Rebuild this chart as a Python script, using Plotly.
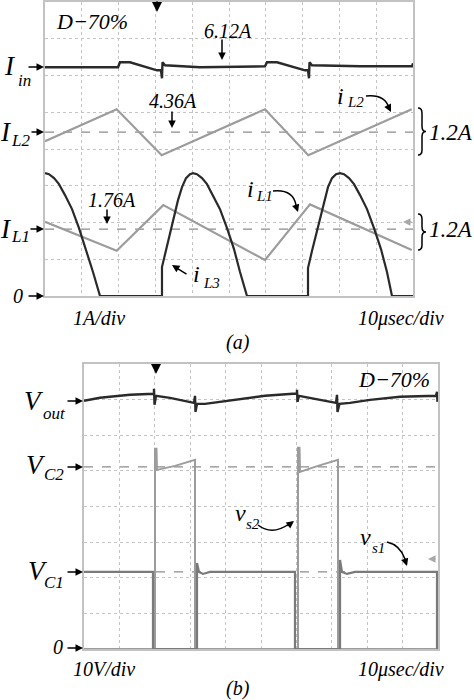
import plotly.graph_objects as go

W, H = 474, 700

# ---------------- Panel (a) data (x in time divisions, y in current divisions) -------------
iin_t = [0, 0.951, 1.984, 2.038, 2.310, 3.043, 3.152, 3.179, 3.193, 3.261, 4.212,
         5.978, 6.033, 6.304, 7.065, 7.147, 7.174, 7.188, 7.255, 8.560, 9.973, 10.0]
iin_v = [6.223, 6.223, 6.223, 6.359, 6.359, 6.141, 6.141, 5.924, 6.359, 6.277, 6.223,
         6.250, 6.359, 6.359, 6.141, 6.141, 5.924, 6.359, 6.277, 6.250, 6.250, 6.332]

il2_t = [0, 1.948, 3.171, 5.978, 7.155, 9.965]
il2_v = [4.212, 5.082, 3.832, 5.082, 3.832, 5.082]

il1_t = [0, 1.948, 3.215, 5.978, 7.201, 9.965]
il1_v = [2.019, 1.231, 2.473, 0.978, 2.492, 1.250]

il3_t = [0, 0.109, 0.245, 0.380, 0.543, 0.734, 0.924, 1.114, 1.304, 1.495,
         3.179, 3.179, 3.288, 3.397, 3.505, 3.614, 3.723, 3.832, 3.940, 4.022,
         4.130, 4.266, 4.402, 4.565, 4.755, 4.946, 5.136, 5.299, 5.489,
         7.147, 7.147, 7.255, 7.364, 7.473, 7.582, 7.690, 7.799, 7.908, 8.016,
         8.125, 8.261, 8.397, 8.560, 8.750, 8.940, 9.130, 9.293, 9.429, 10.0]
il3_v = [3.342, 3.315, 3.207, 3.043, 2.745, 2.364, 1.848, 1.277, 0.652, 0,
         0, 0.788, 1.250, 1.658, 2.147, 2.609, 2.962, 3.207, 3.315, 3.342,
         3.315, 3.207, 3.043, 2.745, 2.364, 1.848, 1.277, 0.652, 0,
         0, 0.761, 1.223, 1.658, 2.147, 2.609, 2.962, 3.207, 3.315, 3.342,
         3.315, 3.207, 3.043, 2.745, 2.364, 1.848, 1.277, 0.652, 0, 0]

ref_a_levels = [4.46, 1.82]          # I_L2 and I_L1 reference (dashed) levels

# ---------------- Panel (b) data (x in time divisions, y in voltage divisions) -------------
vout_t = [0, 0.452, 1.299, 1.864, 1.977, 1.977, 1.992, 2.034, 2.429, 3.107, 3.136, 3.150,
          3.192, 3.418, 4.209, 5.113, 5.904, 6.017, 6.017, 6.031, 6.073, 6.525, 7.119,
          7.147, 7.161, 7.218, 7.514, 8.079, 8.927, 9.944, 9.972, 9.986]
vout_v = [6.966, 7.051, 7.135, 7.163, 7.163, 7.303, 6.854, 7.107, 7.051, 6.910, 7.107, 6.657,
          6.882, 6.882, 6.994, 7.107, 7.163, 7.163, 7.275, 6.938, 7.107, 7.022, 6.910,
          7.135, 6.657, 6.882, 6.910, 6.994, 7.079, 7.107, 7.219, 6.938]

vs1_t = [0, 1.949, 1.949, 3.136, 3.192, 3.192, 3.249, 3.362, 3.559, 5.960, 5.960,
         7.175, 7.232, 7.232, 7.288, 7.429, 7.655, 9.972, 9.972]
vs1_v = [2.163, 2.163, 0, 0, 0, 2.416, 2.163, 2.107, 2.163, 2.163, 0,
         0, 0, 2.500, 2.163, 2.107, 2.163, 2.163, 0]

vs2_t = [0, 2.006, 2.006, 2.048, 2.062, 2.571, 3.136, 3.136, 6.045, 6.045, 6.088,
         6.102, 6.610, 7.175, 7.175, 10.0]
vs2_v = [0, 0, 5.618, 5.618, 5.028, 5.140, 5.309, 0, 0, 5.646, 5.646,
         4.972, 5.140, 5.309, 0, 0]

ref_b_levels = [5.112, 2.163]        # V_C2 and V_C1 reference (dashed) levels

DARK = "#2a2a2a"
GRAY = "#9c9c9c"
FONT = "Liberation Serif, Times New Roman, DejaVu Serif, serif"

fig = go.Figure()

# panel (a) traces
for lvl in ref_a_levels:
    fig.add_trace(go.Scatter(x=[0, 10], y=[lvl, lvl], mode="lines", xaxis="x", yaxis="y",
                             line=dict(color="#8c8c8c", width=1.2, dash="dash")))
fig.add_trace(go.Scatter(x=il2_t, y=il2_v, mode="lines", xaxis="x", yaxis="y",
                         line=dict(color=GRAY, width=2.2)))
fig.add_trace(go.Scatter(x=il1_t, y=il1_v, mode="lines", xaxis="x", yaxis="y",
                         line=dict(color=GRAY, width=2.2)))
fig.add_trace(go.Scatter(x=il3_t, y=il3_v, mode="lines", xaxis="x", yaxis="y",
                         line=dict(color=DARK, width=2.2)))
fig.add_trace(go.Scatter(x=iin_t, y=iin_v, mode="lines", xaxis="x", yaxis="y",
                         line=dict(color=DARK, width=2.4)))

# panel (b) traces
for lvl in ref_b_levels:
    fig.add_trace(go.Scatter(x=[0, 10], y=[lvl, lvl], mode="lines", xaxis="x2", yaxis="y2",
                             line=dict(color="#8c8c8c", width=1.2, dash="dash")))
fig.add_trace(go.Scatter(x=vs2_t, y=vs2_v, mode="lines", xaxis="x2", yaxis="y2",
                         line=dict(color=GRAY, width=2.0)))
fig.add_trace(go.Scatter(x=vs1_t, y=vs1_v, mode="lines", xaxis="x2", yaxis="y2",
                         line=dict(color="#7a7a7a", width=2.2)))
fig.add_trace(go.Scatter(x=vout_t, y=vout_v, mode="lines", xaxis="x2", yaxis="y2",
                         line=dict(color=DARK, width=2.4)))


def ax(domain, rng, dt, anchor):
    return dict(domain=domain, range=rng, dtick=dt, tick0=0, showgrid=True,
                gridcolor="#c4c4c4", griddash="dot", gridwidth=1.2,
                showticklabels=False, ticks="", zeroline=False, showline=True,
                mirror=True, linecolor="#c2c2c2", linewidth=1.6, anchor=anchor,
                fixedrange=True)


def px(x):
    return x / W


def py(y):
    return 1 - y / H


def txt(s, x, y, size=20, xanchor="center", color="black"):
    return dict(text=s, x=px(x), y=py(y), xref="paper", yref="paper", showarrow=False,
                font=dict(family=FONT, size=size, color=color),
                xanchor=xanchor, yanchor="middle")


def arr(x0, y0, x1, y1, color="black", width=1.5, head=2, size=1.0):
    return dict(text="", x=px(x1), y=py(y1), xref="paper", yref="paper", showarrow=True,
                ax=x0 - x1, ay=y0 - y1, axref="pixel", ayref="pixel",
                arrowhead=head, arrowsize=size, arrowwidth=width, arrowcolor=color,
                standoff=0, startstandoff=0)


def curve(p0, c, p1, color="black", width=1.5):
    path = "M %f,%f Q %f,%f %f,%f" % (px(p0[0]), py(p0[1]), px(c[0]), py(c[1]),
                                      px(p1[0]), py(p1[1]))
    return dict(type="path", path=path, xref="paper", yref="paper",
                line=dict(color=color, width=width))


def brace(x0, yt, yb, w=8, r=5):
    ym = (yt + yb) / 2
    xm = x0 + w / 2
    pts = [("M", [(x0, yt)]), ("Q", [(xm, yt), (xm, yt + r)]), ("L", [(xm, ym - r)]),
           ("Q", [(xm, ym), (x0 + w, ym)]), ("Q", [(xm, ym), (xm, ym + r)]),
           ("L", [(xm, yb - r)]), ("Q", [(xm, yb), (x0, yb)])]
    s = ""
    for cmd, ps in pts:
        s += cmd + " " + " ".join("%f,%f" % (px(a), py(b)) for a, b in ps) + " "
    return dict(type="path", path=s.strip(), xref="paper", yref="paper",
                line=dict(color="black", width=1.5))


ann = []
shapes = []

# ---- panel (a) annotations ----
ann += [txt("<i>D−70%</i>", 92, 21, 22)]
ann += [txt("<i>6.12A</i>", 228, 31, 20), arr(222, 38, 222, 60)]
ann += [txt("<i>4.36A</i>", 173, 101, 20), arr(172, 110, 172, 128)]
ann += [txt("<i>1.76A</i>", 112, 200, 20), arr(107, 208, 107, 224)]
ann += [txt("<i>i</i>", 340, 96, 24), txt("<i>L2</i>", 355, 102, 15)]
shapes += [curve((366, 96), (385, 94), (389, 108))]
ann += [arr(387, 104, 391, 112)]
ann += [txt("<i>i</i>", 250, 189, 24), txt("<i>L1</i>", 264, 196, 15)]
shapes += [curve((273, 191), (293, 189), (296, 205))]
ann += [arr(295, 203, 298, 212)]
ann += [txt("<i>i</i>", 196, 274, 24), txt("<i>L3</i>", 211, 283, 15), arr(188, 275, 172, 265)]
shapes += [brace(418, 108, 155), brace(418, 214, 250)]
ann += [txt("<i>1.2A</i>", 427, 132, 23, "left"), txt("<i>1.2A</i>", 427, 230, 23, "left")]
ann += [arr(413, 222, 403, 222, color="#a8a8a8", width=1.5)]
ann += [arr(157, 0, 157, 12, width=2)]
# left labels (a)
ann += [txt("<i>I</i>", 10, 66, 27), txt("<i>in</i>", 24, 81, 17), arr(27, 67, 44, 67)]
ann += [txt("<i>I</i>", 6, 132, 27), txt("<i>L2</i>", 20, 141, 17), arr(30, 132, 44, 132)]
ann += [txt("<i>I</i>", 6, 229, 27), txt("<i>L1</i>", 20, 237, 17), arr(29, 229, 44, 229)]
ann += [txt("<i>0</i>", 18, 296, 20), arr(27, 296, 44, 296)]
ann += [txt("<i>1A/div</i>", 99, 318, 20), txt("<i>10μsec/div</i>", 401, 318, 20),
        txt("<i>(a)</i>", 238, 342, 20)]

# ---- panel (b) annotations ----
ann += [txt("<i>D−70%</i>", 394, 380, 22)]
ann += [arr(156, 363, 156, 374, width=2)]
ann += [txt("<i>V</i>", 34, 401, 27), txt("<i>out</i>", 54, 413, 17), arr(66, 401, 83, 401)]
ann += [txt("<i>V</i>", 36, 465, 27), txt("<i>C2</i>", 54, 474, 17), arr(66, 467, 83, 467)]
ann += [txt("<i>V</i>", 38, 571, 27), txt("<i>C1</i>", 54, 582, 17), arr(66, 572, 83, 572)]
ann += [txt("<i>0</i>", 58, 647, 20), arr(66, 648, 83, 648)]
ann += [txt("<i>v</i>", 240, 513, 24), txt("<i>s2</i>", 253, 524, 15)]
shapes += [curve((258, 525), (272, 536), (289, 524))]
ann += [arr(286, 527, 294, 521)]
ann += [txt("<i>v</i>", 365, 537, 24), txt("<i>s1</i>", 378, 548, 15)]
shapes += [curve((387, 542), (400, 545), (405, 559))]
ann += [arr(404, 557, 407, 566)]
ann += [arr(437, 559, 428, 559, color="#a8a8a8", width=1.5)]
ann += [txt("<i>10V/div</i>", 104, 669, 20), txt("<i>10μsec/div</i>", 401, 669, 20),
        txt("<i>(b)</i>", 238, 688, 20)]

fig.update_layout(
    width=W, height=H, autosize=False,
    margin=dict(l=0, r=0, t=0, b=0),
    paper_bgcolor="white", plot_bgcolor="white",
    showlegend=False,
    font=dict(family=FONT),
    xaxis=ax([45 / W, 413 / W], [0, 10], 1, "y"),
    yaxis=ax([1 - 296 / H, 1 - 2 / H], [0, 8], 1, "x"),
    xaxis2=ax([84 / W, 438 / W], [0, 10], 1, "y2"),
    yaxis2=ax([1 - 649 / H, 1 - 364 / H], [0, 8], 1, "x2"),
    annotations=ann,
    shapes=shapes,
)

fig.write_html("out.html", config={"displayModeBar": False},
               post_script="document.body.style.margin='0';document.body.style.padding='0';")
